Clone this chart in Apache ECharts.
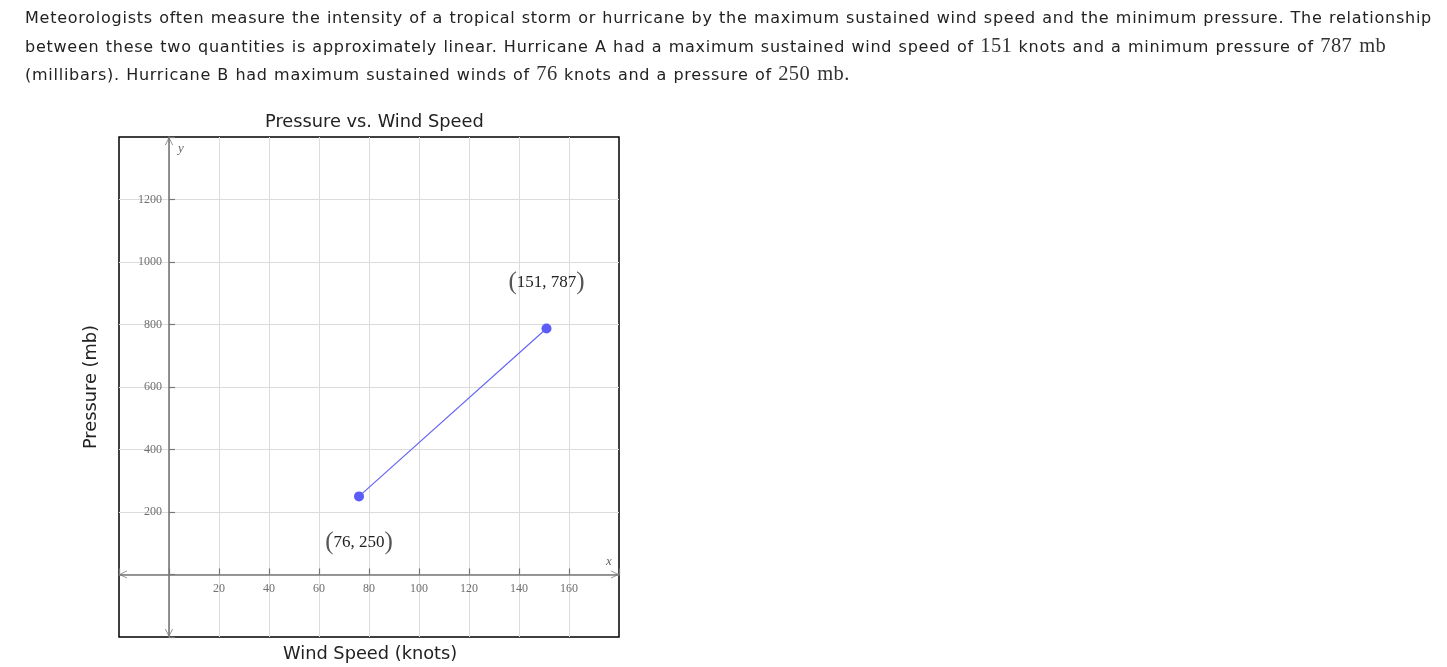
<!DOCTYPE html>
<html>
<head>
<meta charset="utf-8">
<script src="https://cdn.jsdelivr.net/npm/echarts@6/dist/echarts.min.js"></script>
<style>
  html, body { margin: 0; padding: 0; background: #fff; }
  #wrap { position: relative; width: 1447px; height: 667px; overflow: hidden; }
  #chart { position: absolute; left: 0; top: 0; width: 1447px; height: 667px; }
  #para { position: absolute; left: 25px; top: 4px; font-family: "DejaVu Sans", Verdana, sans-serif; font-size: 16px; line-height: 28.5px; letter-spacing: 0.75px; word-spacing: 0.5px; color: #222; white-space: nowrap; pointer-events: none; }
  #para .m { font-family: "Liberation Serif", "Times New Roman", serif; font-size: 20.5px; line-height: 0; letter-spacing: 0.4px; word-spacing: 1.5px; color: #333; }
</style>
</head>
<body>
<div id="wrap">
  <div id="chart"></div>
  <div id="para">Meteorologists often measure the intensity of a tropical storm or hurricane by the maximum sustained wind speed and the minimum pressure. The relationship<br>between these two quantities is approximately linear. Hurricane A had a maximum sustained wind speed of <span class="m">151</span> knots and a minimum pressure of <span class="m">787 mb</span><br>(millibars). Hurricane B had maximum sustained winds of <span class="m">76</span> knots and a pressure of <span class="m">250 mb.</span></div>
</div>
<script>
// ---- data ----
const windSpeed = [76, 151];        // knots
const pressure = [250, 787];        // mb
const chartTitle = 'Pressure vs. Wind Speed';
const xAxisTitle = 'Wind Speed (knots)';
const yAxisTitle = 'Pressure (mb)';
const xRange = [-20, 180];
const yRange = [-200, 1400];
const xStep = 20;
const yStep = 200;

// ---- layout ----
const G = { left: 119, top: 137, width: 500, height: 500 };
// distance of the zero lines from the grid's bottom / left edges (so axes cross at the origin)
const xAxisOffset = -G.height * (0 - yRange[0]) / (yRange[1] - yRange[0]);
const yAxisOffset = -G.width * (0 - xRange[0]) / (xRange[1] - xRange[0]);

// ---- chart ----
const chart = echarts.init(document.getElementById('chart'), null, { renderer: 'canvas' });
const chevron = 'path://M0,10 L5,0 L10,10 L9,10 L5,2 L1,10 Z';
const axisGrey = '#777777';
const maxP = Math.max(...pressure);

const points = windSpeed.map((x, i) => ({
  value: [x, pressure[i]],
  label: {
    position: pressure[i] === maxP ? 'top' : 'bottom',
    distance: 29
  }
}));

const hideEdges = (lo, hi) => (v) => (v === 0 || v <= lo || v >= hi) ? '' : String(v);

chart.setOption({
  animation: false,
  title: {
    text: chartTitle,
    left: 260, top: 108,
    textStyle: { fontFamily: 'DejaVu Sans', fontSize: 17.8, fontWeight: 'normal', color: '#222' }
  },
  grid: {
    left: G.left, top: G.top, width: G.width, height: G.height,
    show: true, borderColor: '#000', borderWidth: 1.5, backgroundColor: 'transparent'
  },
  xAxis: {
    type: 'value', min: xRange[0], max: xRange[1], interval: xStep,
    position: 'bottom', offset: xAxisOffset,
    name: 'x', nameLocation: 'end', nameGap: -10,
    nameTextStyle: { fontFamily: 'Liberation Serif', fontStyle: 'italic', fontSize: 13, color: '#666', align: 'center', verticalAlign: 'bottom', padding: [0, 0, 6, 0] },
    axisLine: { onZero: false, lineStyle: { color: axisGrey, width: 1.6 }, symbol: [chevron, chevron], symbolSize: [10, 8], symbolOffset: [4, -4] },
    axisTick: { show: true, inside: true, length: 6, lineStyle: { color: axisGrey, width: 1.2 } },
    axisLabel: { formatter: hideEdges(xRange[0], xRange[1]), margin: 8, fontFamily: 'Liberation Serif', fontSize: 12, color: '#6f6f6f' },
    splitLine: { show: true, showMinLine: false, showMaxLine: false, lineStyle: { color: '#dcdcdc', width: 1 } }
  },
  yAxis: {
    type: 'value', min: yRange[0], max: yRange[1], interval: yStep,
    position: 'left', offset: yAxisOffset,
    name: 'y', nameLocation: 'end', nameGap: -18,
    nameTextStyle: { fontFamily: 'Liberation Serif', fontStyle: 'italic', fontSize: 13, color: '#666', align: 'left', padding: [0, 0, 0, 9] },
    axisLine: { onZero: false, lineStyle: { color: axisGrey, width: 1.6 }, symbol: [chevron, chevron], symbolSize: [10, 8], symbolOffset: [4, -4] },
    axisTick: { show: true, inside: true, length: 6, lineStyle: { color: axisGrey, width: 1.2 } },
    axisLabel: { formatter: hideEdges(yRange[0], yRange[1]), margin: 7, fontFamily: 'Liberation Serif', fontSize: 12, color: '#6f6f6f' },
    splitLine: { show: true, showMinLine: false, showMaxLine: false, lineStyle: { color: '#dcdcdc', width: 1 } }
  },
  graphic: [
    { type: 'text', left: 283, top: 645, style: { text: xAxisTitle, fontFamily: 'DejaVu Sans', fontSize: 17.8, fill: '#222' } },
    { type: 'text', left: 82, top: 325, rotation: Math.PI / 2, style: { text: yAxisTitle, fontFamily: 'DejaVu Sans', fontSize: 17.8, fill: '#222' } }
  ],
  series: [{
    type: 'line',
    data: points,
    symbol: 'circle',
    symbolSize: 10,
    itemStyle: { color: '#5c5cf8' },
    lineStyle: { color: '#6565f5', width: 1.2 },
    label: {
      show: true,
      formatter: (p) => '{p|(}{n|' + p.value[0] + ', ' + p.value[1] + '}{p|)}',
      rich: {
        p: { fontFamily: 'Liberation Serif', fontSize: 25, color: '#555' },
        n: { fontFamily: 'Liberation Serif', fontSize: 17, color: '#222' }
      }
    },
    z: 5
  }]
});
</script>
</body>
</html>
